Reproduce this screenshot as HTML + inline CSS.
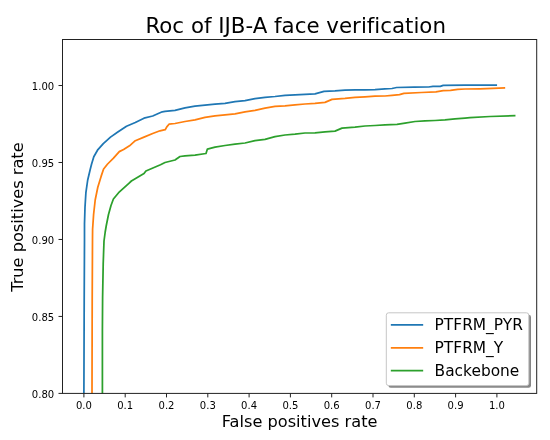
<!DOCTYPE html>
<html><head><meta charset="utf-8"><title>Roc of IJB-A face verification</title>
<style>
html,body{margin:0;padding:0;background:#fff;}
svg{display:block;}
text{font-variant-ligatures:none;font-feature-settings:"liga" 0,"clig" 0;font-family:"DejaVu Sans","Liberation Sans",sans-serif;fill:#000;}
.tk{font-size:10.05px;}
.lb{font-size:16.2px;}
.tt{font-size:21.35px;}
.lg{font-size:15.4px;}
</style></head><body>
<svg width="550" height="440" viewBox="0 0 550 440">
<rect width="550" height="440" fill="#fff"/>
<clipPath id="cp"><rect x="62.5" y="39.5" width="474.20000000000005" height="353.9"/></clipPath>
<g clip-path="url(#cp)" fill="none" stroke-width="1.75" stroke-linejoin="round" stroke-linecap="square">
<polyline stroke="#1f77b4" points="83.9,394.0 84.2,300.0 84.5,240.0 84.5,223.6 85.0,207.3 85.9,192.7 87.7,180.0 90.2,169.5 91.6,164.0 93.8,156.7 97.5,150.2 103.3,143.6 110.5,137.1 117.8,132.0 126.5,126.2 135.3,122.5 144.0,118.2 152.7,116.0 160.0,112.8 162.3,111.8 165.0,111.3 175.0,110.3 185.0,107.9 195.0,106.1 205.0,105.1 215.0,104.1 225.0,103.3 235.0,101.7 245.0,100.7 255.0,98.7 265.0,97.3 275.0,96.5 285.0,95.3 295.0,94.9 305.0,94.3 315.0,93.9 324.0,91.3 335.0,90.9 345.0,90.1 355.0,89.9 365.0,89.9 375.0,89.7 385.0,88.9 392.0,88.5 396.6,87.5 414.0,87.2 428.6,87.0 433.0,86.3 440.3,86.3 443.2,85.3 465.0,85.1 496.2,85.2"/>
<polyline stroke="#ff7f0e" points="92.0,394.0 92.2,300.0 92.5,240.0 92.6,229.0 93.6,214.5 95.2,200.0 97.8,187.3 101.1,176.4 103.6,169.0 107.6,164.0 113.5,158.2 119.3,151.6 123.6,149.5 129.5,145.8 135.3,140.7 144.0,137.1 152.7,133.5 160.0,130.8 165.2,129.7 166.8,126.9 169.0,124.2 175.0,123.5 185.0,121.5 195.0,119.9 205.0,117.4 215.0,115.8 225.0,114.8 235.0,113.8 245.0,111.8 255.0,110.4 265.0,108.2 275.0,106.4 285.0,105.8 295.0,104.8 305.0,104.0 315.0,103.4 325.0,102.4 332.0,99.4 345.0,98.4 355.0,97.4 365.0,96.9 375.0,96.2 385.0,96.0 392.0,95.4 399.5,94.7 403.9,93.3 421.4,92.5 435.9,91.8 443.2,90.7 450.5,90.4 457.7,89.4 465.0,89.0 480.0,88.8 504.3,88.0"/>
<polyline stroke="#2ca02c" points="102.4,394.0 102.4,330.0 102.6,298.0 103.2,264.0 104.0,241.0 105.2,232.0 106.3,225.5 108.5,214.5 111.0,205.5 113.4,199.0 118.6,192.7 128.6,183.6 131.4,181.0 144.0,173.6 145.9,171.0 160.5,164.8 165.0,162.5 175.0,160.0 180.0,156.5 185.0,155.9 195.0,155.1 206.0,153.5 207.4,149.1 215.0,147.1 225.0,145.5 235.0,144.1 245.0,143.0 255.0,140.6 265.0,139.3 275.0,136.6 285.0,135.0 295.0,134.2 305.0,133.0 315.0,132.9 325.0,131.9 335.0,131.1 342.0,128.1 355.0,127.1 365.0,126.0 375.0,125.5 385.0,124.9 397.0,124.3 405.0,123.1 415.0,121.5 425.0,120.9 435.0,120.5 445.0,119.9 455.0,118.9 465.0,118.1 470.0,117.7 490.0,116.5 514.6,115.7"/>
</g>
<rect x="62.5" y="39.5" width="474.20000000000005" height="353.9" fill="none" stroke="#222" stroke-width="1"/>
<g stroke="#222" stroke-width="1">
<line x1="83.90" y1="393.4" x2="83.90" y2="397.4"/>
<line x1="125.20" y1="393.4" x2="125.20" y2="397.4"/>
<line x1="166.50" y1="393.4" x2="166.50" y2="397.4"/>
<line x1="207.80" y1="393.4" x2="207.80" y2="397.4"/>
<line x1="249.10" y1="393.4" x2="249.10" y2="397.4"/>
<line x1="290.40" y1="393.4" x2="290.40" y2="397.4"/>
<line x1="331.70" y1="393.4" x2="331.70" y2="397.4"/>
<line x1="373.00" y1="393.4" x2="373.00" y2="397.4"/>
<line x1="414.30" y1="393.4" x2="414.30" y2="397.4"/>
<line x1="455.60" y1="393.4" x2="455.60" y2="397.4"/>
<line x1="496.90" y1="393.4" x2="496.90" y2="397.4"/>
<line x1="62.5" y1="393.40" x2="58.5" y2="393.40"/>
<line x1="62.5" y1="316.43" x2="58.5" y2="316.43"/>
<line x1="62.5" y1="239.46" x2="58.5" y2="239.46"/>
<line x1="62.5" y1="162.49" x2="58.5" y2="162.49"/>
<line x1="62.5" y1="85.52" x2="58.5" y2="85.52"/>
</g>
<text class="tk" x="83.90" y="408.7" text-anchor="middle">0.0</text>
<text class="tk" x="125.20" y="408.7" text-anchor="middle">0.1</text>
<text class="tk" x="166.50" y="408.7" text-anchor="middle">0.2</text>
<text class="tk" x="207.80" y="408.7" text-anchor="middle">0.3</text>
<text class="tk" x="249.10" y="408.7" text-anchor="middle">0.4</text>
<text class="tk" x="290.40" y="408.7" text-anchor="middle">0.5</text>
<text class="tk" x="331.70" y="408.7" text-anchor="middle">0.6</text>
<text class="tk" x="373.00" y="408.7" text-anchor="middle">0.7</text>
<text class="tk" x="414.30" y="408.7" text-anchor="middle">0.8</text>
<text class="tk" x="455.60" y="408.7" text-anchor="middle">0.9</text>
<text class="tk" x="496.90" y="408.7" text-anchor="middle">1.0</text>
<text class="tk" x="54.2" y="397.50" text-anchor="end">0.80</text>
<text class="tk" x="54.2" y="320.53" text-anchor="end">0.85</text>
<text class="tk" x="54.2" y="243.56" text-anchor="end">0.90</text>
<text class="tk" x="54.2" y="166.59" text-anchor="end">0.95</text>
<text class="tk" x="54.2" y="89.62" text-anchor="end">1.00</text>
<text class="tt" x="295.7" y="32.6" text-anchor="middle">Roc of IJB-A face verification</text>
<text class="lb" x="299.6" y="427.4" text-anchor="middle">False positives rate</text>
<text class="lb" transform="translate(23.2,217.1) rotate(-90)" text-anchor="middle">True positives rate</text>
<rect x="388.4" y="314.7" width="142.6" height="73.1" rx="2.4" fill="#4d4d4d" fill-opacity="0.68"/>
<rect x="386.3" y="312.8" width="142.5" height="72.8" rx="2.4" fill="#fff" stroke="#c6c6c6" stroke-width="1"/>
<line x1="391.7" y1="324.9" x2="422.3" y2="324.9" stroke="#1f77b4" stroke-width="1.75" stroke-linecap="square"/>
<line x1="391.7" y1="347.8" x2="422.3" y2="347.8" stroke="#ff7f0e" stroke-width="1.75" stroke-linecap="square"/>
<line x1="391.7" y1="370.7" x2="422.3" y2="370.7" stroke="#2ca02c" stroke-width="1.75" stroke-linecap="square"/>
<text class="lg" x="434.6" y="330.2">PTFRM_PYR</text>
<text class="lg" x="434.6" y="353.3">PTFRM_Y</text>
<text class="lg" x="434.6" y="376.3">Backebone</text>
</svg></body></html>
